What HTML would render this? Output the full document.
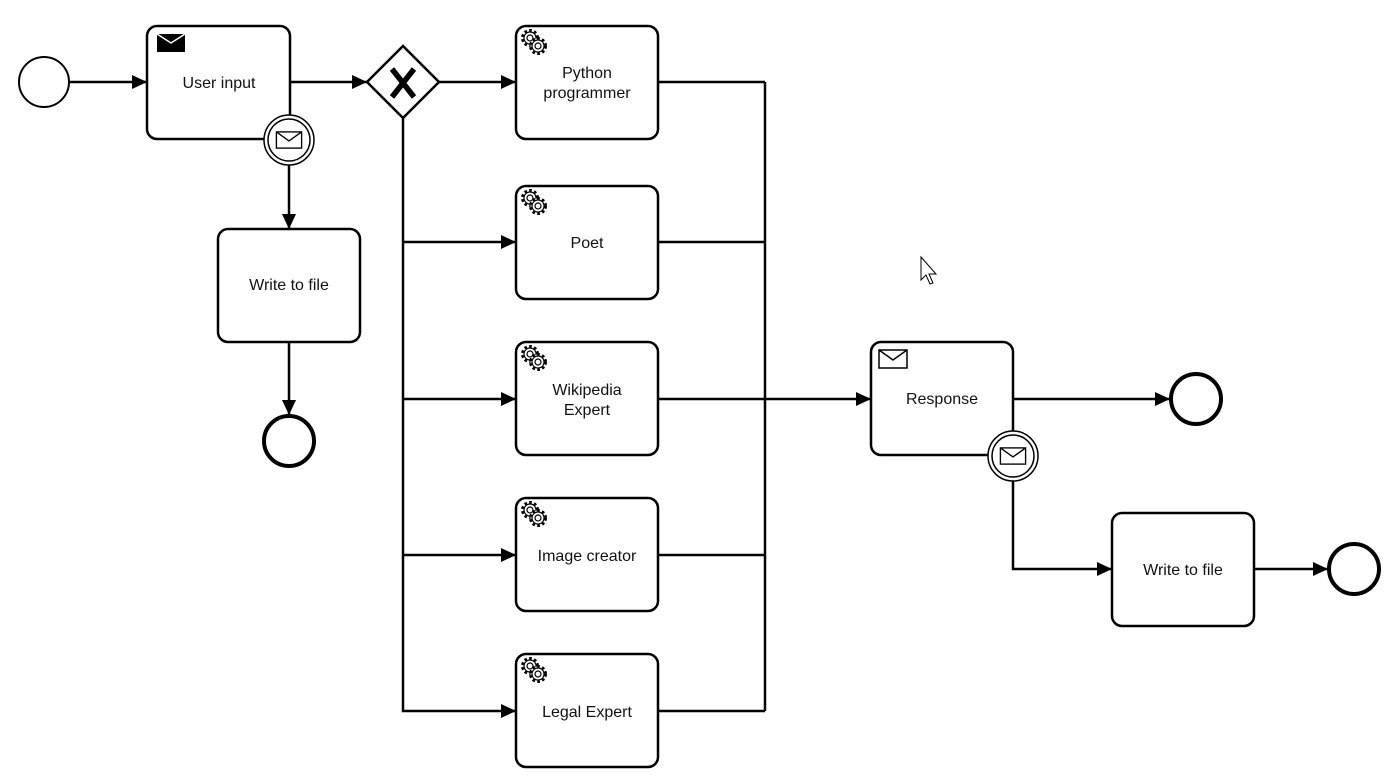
<!DOCTYPE html>
<html><head><meta charset="utf-8"><style>
html,body{margin:0;padding:0;background:#fff;width:1400px;height:783px;overflow:hidden}
text{font-family:"Liberation Sans",Arial,sans-serif;font-size:16px;fill:#111}
</style></head><body>
<svg width="1400" height="783" xmlns="http://www.w3.org/2000/svg">
<defs>
<marker id="a" markerWidth="16" markerHeight="14" refX="15" refY="7" orient="auto" markerUnits="userSpaceOnUse">
<path d="M0,0 L15,7 L0,14 z" fill="#000"/></marker>
<g id="gear">
<circle cx="0" cy="0" r="7.5" fill="#fff" stroke="#000" stroke-width="3" stroke-dasharray="2.6 2.3"/>
<circle cx="0" cy="0" r="6" fill="#fff" stroke="#000" stroke-width="1.2"/>
<circle cx="0" cy="0" r="3" fill="#fff" stroke="#000" stroke-width="1.2"/>
</g>
<g id="gears"><use href="#gear" x="-1" y="-2"/><use href="#gear" x="7" y="6"/></g>
<g id="env"><rect x="-14" y="-9" width="28" height="18" fill="#fff" stroke="#000" stroke-width="1.5"/><path d="M-14,-9 L0,1 L14,-9" fill="none" stroke="#000" stroke-width="1.5"/></g>
<g id="bnd"><circle r="25" fill="#fff" stroke="#000" stroke-width="1.5"/><circle r="21" fill="#fff" stroke="#000" stroke-width="1.5"/><g transform="scale(0.9)"><use href="#env"/></g></g>
</defs>
<g fill="none" stroke="#000" stroke-width="2.5">
<line x1="70" y1="82" x2="147" y2="82" marker-end="url(#a)"/>
<line x1="290" y1="82" x2="367" y2="82" marker-end="url(#a)"/>
<line x1="289" y1="165" x2="289" y2="229" marker-end="url(#a)"/>
<line x1="289" y1="342" x2="289" y2="415" marker-end="url(#a)"/>
<line x1="439" y1="82" x2="516" y2="82" marker-end="url(#a)"/>
<polyline points="403,118 403,711 516,711" marker-end="url(#a)"/>
<line x1="403" y1="242" x2="516" y2="242" marker-end="url(#a)"/>
<line x1="403" y1="399" x2="516" y2="399" marker-end="url(#a)"/>
<line x1="403" y1="555" x2="516" y2="555" marker-end="url(#a)"/>
<line x1="765" y1="82" x2="765" y2="711"/>
<line x1="658" y1="82" x2="765" y2="82"/>
<line x1="658" y1="242" x2="765" y2="242"/>
<line x1="658" y1="399" x2="765" y2="399"/>
<line x1="658" y1="555" x2="765" y2="555"/>
<line x1="658" y1="711" x2="765" y2="711"/>
<line x1="765" y1="399" x2="871" y2="399" marker-end="url(#a)"/>
<line x1="1013" y1="399" x2="1170" y2="399" marker-end="url(#a)"/>
<polyline points="1013,481 1013,569 1112,569" marker-end="url(#a)"/>
<line x1="1254" y1="569" x2="1328" y2="569" marker-end="url(#a)"/>
</g>
<circle cx="44" cy="82" r="25" fill="#fff" stroke="#000" stroke-width="2"/>
<circle cx="289" cy="441" r="25" fill="#fff" stroke="#000" stroke-width="4"/>
<circle cx="1196" cy="399" r="25" fill="#fff" stroke="#000" stroke-width="4"/>
<circle cx="1354" cy="569" r="25" fill="#fff" stroke="#000" stroke-width="4"/>
<path d="M403,46 L439,82 L403,118 L367,82 z" fill="#fff" stroke="#000" stroke-width="2.5"/>
<path d="M392,69 L414,97 M414,69 L392,97" stroke="#000" stroke-width="5.5" fill="none"/>
<g fill="#fff" stroke="#000" stroke-width="2.5">
<rect x="147" y="26" width="143" height="113" rx="10"/>
<rect x="218" y="229" width="142" height="113" rx="10"/>
<rect x="516" y="26" width="142" height="113" rx="10"/>
<rect x="516" y="186" width="142" height="113" rx="10"/>
<rect x="516" y="342" width="142" height="113" rx="10"/>
<rect x="516" y="498" width="142" height="113" rx="10"/>
<rect x="516" y="654" width="142" height="113" rx="10"/>
<rect x="871" y="342" width="142" height="113" rx="10"/>
<rect x="1112" y="513" width="142" height="113" rx="10"/>
</g>
<rect x="157" y="34" width="28" height="18" fill="#000"/><path d="M157,34 L171,43 L185,34" fill="none" stroke="#fff" stroke-width="1.5"/>
<use href="#env" x="893" y="359"/>
<use href="#gears" x="531" y="40"/>
<use href="#gears" x="531" y="200"/>
<use href="#gears" x="531" y="356"/>
<use href="#gears" x="531" y="512"/>
<use href="#gears" x="531" y="668"/>
<use href="#bnd" x="289" y="140"/>
<use href="#bnd" x="1013" y="456"/>
<g text-anchor="middle">
<text x="219" y="88">User input</text>
<text x="289" y="290">Write to file</text>
<text x="587" y="78">Python</text><text x="587" y="98">programmer</text>
<text x="587" y="248">Poet</text>
<text x="587" y="395">Wikipedia</text><text x="587" y="415">Expert</text>
<text x="587" y="561">Image creator</text>
<text x="587" y="717">Legal Expert</text>
<text x="942" y="404">Response</text>
<text x="1183" y="575">Write to file</text>
</g>
<path d="M921,257 L921,280 L926,275 L930,284 L933,283 L929,274 L936,274 z" fill="#fff" stroke="#000" stroke-width="1"/>
</svg>
</body></html>
